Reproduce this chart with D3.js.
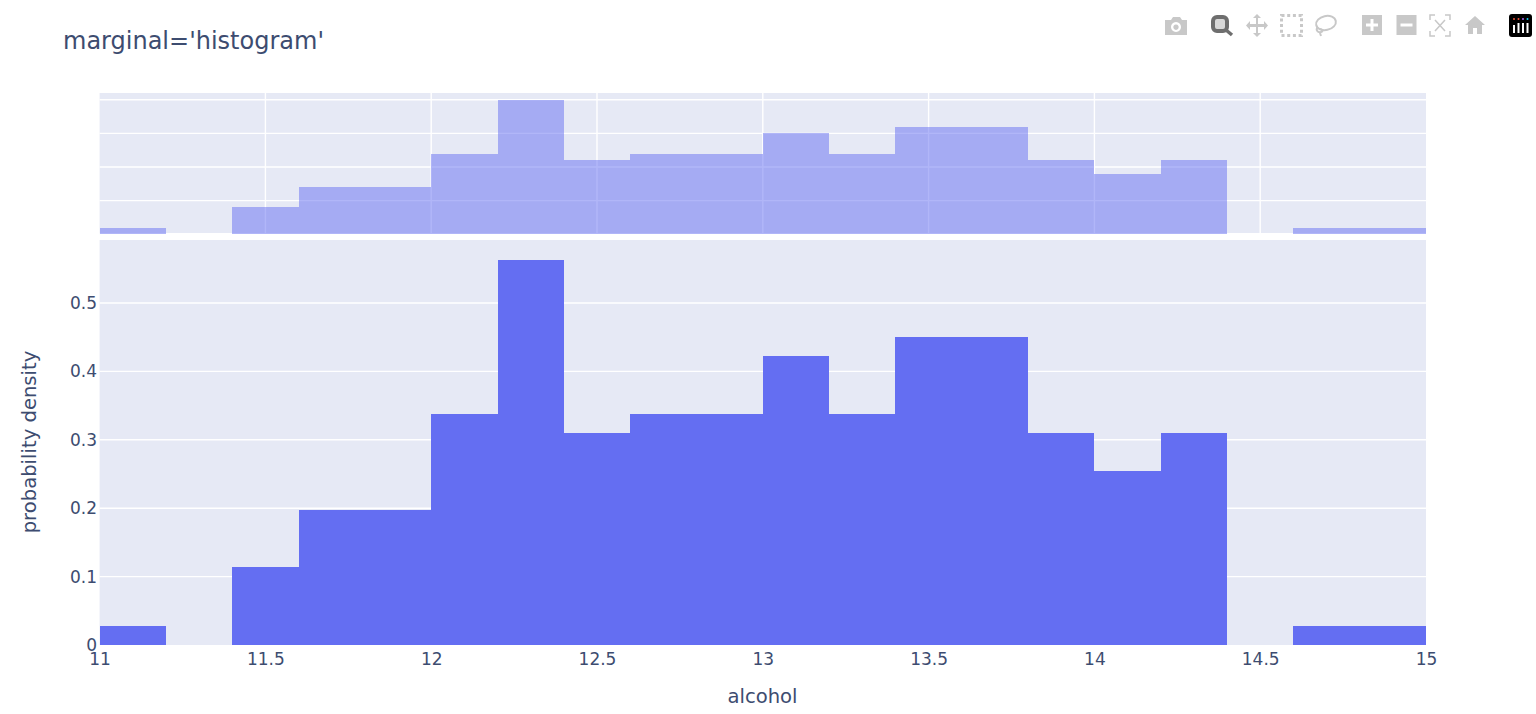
<!DOCTYPE html>
<html>
<head>
<meta charset="utf-8">
<script src="https://cdn.jsdelivr.net/npm/d3@7"></script>
<style>
html, body { margin: 0; padding: 0; background: #fff; overflow: hidden; }
text { font-family: "DejaVu Sans", verdana, arial, sans-serif; fill: #3d4c70; }
.tick line { display: none; }
.domain { display: none; }
.bars rect { shape-rendering: crispEdges; }
</style>
</head>
<body>
<svg id="chart" width="1536" height="714"></svg>
<script>
var binStarts = [11, 11.2, 11.4, 11.6, 11.8, 12, 12.2, 12.4, 12.6, 12.8, 13, 13.2, 13.4, 13.6, 13.8, 14, 14.2, 14.4, 14.6, 14.8];
var binWidth = 0.2;
// main panel, probability density
var density = [0.028, 0, 0.114, 0.198, 0.198, 0.338, 0.563, 0.31, 0.338, 0.338, 0.422, 0.338, 0.45, 0.45, 0.31, 0.254, 0.31, 0, 0.028, 0.028];
// marginal panel, same bins as counts
var counts = [1, 0, 4, 7, 7, 12, 20, 11, 12, 12, 15, 12, 16, 16, 11, 9, 11, 0, 1, 1];
var xTicks = [11, 11.5, 12, 12.5, 13, 13.5, 14, 14.5, 15];
var yTicks = [0, 0.1, 0.2, 0.3, 0.4, 0.5];
var marginalTicks = [0, 5, 10, 15, 20];

var barColor = "#646ef2";
var plotBg = "#e6e9f5";
var left = 99.6, right = 1426;

var svg = d3.select("#chart");
var x = d3.scaleLinear().domain([11, 15]).range([left, right]);
var y = d3.scaleLinear().domain([0, 0.5]).range([645, 303]);
var yTop = d3.scaleLinear().domain([0, 20]).range([234.3, 99.7]);

svg.append("text").attr("x", 63).attr("y", 49).text("marginal='histogram'").style("font-size", "24px");

// marginal panel
svg.append("rect").attr("x", left).attr("y", 93).attr("width", right - left).attr("height", 141.3).attr("fill", plotBg);
var topGrid = svg.append("g");
topGrid.selectAll("line.v").data(xTicks.slice(1, -1)).enter().append("line").attr("class", "v")
	.attr("x1", function(d){ return x(d); }).attr("x2", function(d){ return x(d); })
	.attr("y1", 93).attr("y2", 234.3).attr("stroke", "#fff").attr("stroke-width", 1.4);
topGrid.selectAll("line.h").data(marginalTicks).enter().append("line").attr("class", "h")
	.attr("x1", left).attr("x2", right)
	.attr("y1", function(d){ return yTop(d); }).attr("y2", function(d){ return yTop(d); })
	.attr("stroke", "#fff").attr("stroke-width", function(d){ return d == 0 ? 2.8 : 1.4; });
svg.append("rect").attr("x", left).attr("y", 234.3).attr("width", right - left).attr("height", 5.7).attr("fill", "#fff");

svg.append("g").attr("class", "bars").selectAll("rect").data(counts).enter().append("rect")
	.attr("x", function(d, i){ return x(binStarts[i]); })
	.attr("width", function(d, i){ return x(binStarts[i] + binWidth) - x(binStarts[i]); })
	.attr("y", function(d){ return yTop(d); })
	.attr("height", function(d){ return yTop(0) - yTop(d); })
	.attr("fill", barColor).attr("fill-opacity", 0.5);

// main panel
svg.append("rect").attr("x", left).attr("y", 240).attr("width", right - left).attr("height", 405).attr("fill", plotBg);
svg.append("g").selectAll("line").data(yTicks.slice(1)).enter().append("line")
	.attr("x1", left).attr("x2", right)
	.attr("y1", function(d){ return y(d); }).attr("y2", function(d){ return y(d); })
	.attr("stroke", "#fff").attr("stroke-width", 1.4);

svg.append("g").attr("class", "bars").selectAll("rect").data(density).enter().append("rect")
	.attr("x", function(d, i){ return x(binStarts[i]); })
	.attr("width", function(d, i){ return x(binStarts[i] + binWidth) - x(binStarts[i]); })
	.attr("y", function(d){ return y(d); })
	.attr("height", function(d){ return y(0) - y(d); })
	.attr("fill", barColor);

var xAxis = svg.append("g").attr("transform", "translate(0,645)")
	.call(d3.axisBottom(x).tickValues(xTicks).tickSize(0).tickPadding(5).tickFormat(function(d){ return d; }));
xAxis.selectAll("text").style("font-size", "17px").attr("dy", "0.9em");
var yAxis = svg.append("g").attr("transform", "translate(" + left + ",0)")
	.call(d3.axisLeft(y).tickValues(yTicks).tickSize(0).tickPadding(2.5).tickFormat(function(d){ return d; }));
yAxis.selectAll("text").style("font-size", "17px");
xAxis.selectAll("text").attr("fill", null);
yAxis.selectAll("text").attr("fill", null);

svg.append("text").attr("x", 762.5).attr("y", 703).attr("text-anchor", "middle").text("alcohol").style("font-size", "19.6px");
svg.append("text").attr("transform", "translate(36,442) rotate(-90)").attr("text-anchor", "middle").text("probability density").style("font-size", "19.6px");

// modebar icons
var iconOff = "#c8c8c8", iconOn = "#6e6e6e";
var bar = svg.append("g");
// camera
bar.append("path").attr("fill", iconOff).attr("fill-rule", "evenodd")
	.attr("d", "M1165 20h6l2-3h7l2 3h5v15h-22z M1176 22a5 5 0 1 0 .01 0z M1176 24.5a2.7 2.7 0 1 1-.01 0z");
// zoom, square lens with a handle
bar.append("rect").attr("x", 1213).attr("y", 17).attr("width", 14).attr("height", 14).attr("rx", 4).attr("fill", "#d8d8d8").attr("stroke", iconOn).attr("stroke-width", 4);
bar.append("line").attr("x1", 1226).attr("y1", 30).attr("x2", 1232).attr("y2", 35).attr("stroke", iconOn).attr("stroke-width", 3.5);
// pan
bar.append("path").attr("fill", iconOff)
	.attr("d", "M1257 14l4 4h-3v6h6v-3l4 4.5-4 4.5v-3h-6v6h3l-4 4-4-4h3v-6h-6v3l-4-4.5 4-4.5v3h6v-6h-3z");
// box select
bar.append("rect").attr("x", 1281.5).attr("y", 15.5).attr("width", 20).attr("height", 20).attr("fill", "none")
	.attr("stroke", iconOff).attr("stroke-width", 3).attr("stroke-dasharray", "3 2.7");
// lasso
bar.append("ellipse").attr("cx", 1326).attr("cy", 23).attr("rx", 10).attr("ry", 7).attr("fill", "none").attr("stroke", iconOff).attr("stroke-width", 2).attr("transform", "rotate(-12 1326 23)");
bar.append("path").attr("fill", "none").attr("stroke", iconOff).attr("stroke-width", 2)
	.attr("d", "M1318 27c-3 3 0 6 3 5s1-3 -1-3 M1320 33l1 3");
// zoom in, zoom out
bar.append("path").attr("fill", iconOff).attr("fill-rule", "evenodd")
	.attr("d", "M1362 15h20v20h-20z M1370.5 19v4.5h-4.5v3h4.5v4.5h3v-4.5h4.5v-3h-4.5v-4.5z");
bar.append("path").attr("fill", iconOff).attr("fill-rule", "evenodd")
	.attr("d", "M1396.5 15h20v20h-20z M1400.5 23.5v3h12v-3z");
// autoscale
bar.append("path").attr("fill", "none").attr("stroke", iconOff).attr("stroke-width", 1.5)
	.attr("d", "M1430 20v-5h5 M1445 15h5v5 M1450 31v5h-5 M1435 36h-5v-5 M1435 20l10 11 M1445 20l-10 11");
// home
bar.append("path").attr("fill", iconOff)
	.attr("d", "M1475 16l10 9h-3v9h-5v-6h-4v6h-5v-9h-3z");
// plotly logo
bar.append("rect").attr("x", 1509).attr("y", 14).attr("width", 23).attr("height", 23).attr("rx", 3).attr("fill", "#000");
bar.append("path").attr("fill", "none").attr("stroke", "#fff").attr("stroke-width", 2)
	.attr("d", "M1514 25v8 M1518.5 23v10 M1523 23v10 M1527.5 23v10");
bar.append("circle").attr("cx", 1514).attr("cy", 19).attr("r", 1).attr("fill", "#ef553b");
bar.append("circle").attr("cx", 1518.5).attr("cy", 19).attr("r", 1).attr("fill", "#ef553b");
bar.append("circle").attr("cx", 1523).attr("cy", 19).attr("r", 1).attr("fill", "#ab63fa");
bar.append("circle").attr("cx", 1527.5).attr("cy", 19).attr("r", 1).attr("fill", "#19d3f3");
</script>
</body>
</html>
